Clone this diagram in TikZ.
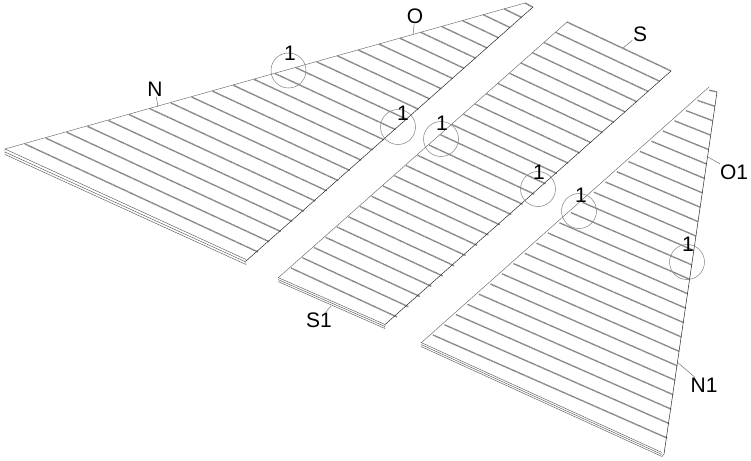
\documentclass[tikz,border=0pt]{standalone}
\usepackage{fontspec}
\setmainfont{Liberation Sans}
\tikzset{
  rib/.style={draw=black!48,line width=1.4pt,dash pattern=on 1.3pt off 0.4pt},
  edgeline/.style={draw=black!85,line width=0.5pt},
  topline/.style={draw=black!55,line width=0.5pt},
  stripline/.style={draw=black!70,line width=0.4pt},
  detailring/.style={circle,draw=black!50,line width=0.5pt,minimum size=35pt,inner sep=0pt},
  lab/.style={inner sep=0.5pt,font=\fontsize{21}{21}\selectfont},
  leader/.style={draw=black!55,line width=0.5pt}
}
\begin{document}
\begin{tikzpicture}[x=1pt,y=-1pt]
	\useasboundingbox (0,0) rectangle (751,460);
	% panel N
	\foreach \k in {0,...,24} {
		\draw[rib] ({25+20.83*\k},{144-5.875*\k}) -- ({258+11.46*\k},{252-10.2*\k});
	}
	\draw[topline] (5,149) -- (525,3);
	\draw[edgeline] (246,261) -- (533,7);
	\draw[stripline] (5,149) -- (246,259.5) (5,152) -- (246,262) (5,154.5) -- (246,264.5) -- (246,259.5) (5,149) -- (5,154.5);
	% panel S
	\foreach \k in {0,...,24} {
		\draw[rib] ({291+11.5*\k},{268-10.25*\k}) -- ({397+11.42*\k},{317-10.25*\k});
	}
	\draw[topline] (278,278) -- (567,22);
	\draw[edgeline] (385,324.5) -- (671,71);
	\draw[stripline] (278,277.5) -- (385,324.5) (278,279.5) -- (385,326.5) (278,281.5) -- (385,328.5) -- (385,324.5);
	% panel N1
	\foreach \k in {0,...,24} {
		\draw[rib] ({433+11.5*\k},{335-10.2*\k}) -- ({667+2.08*\k},{438-14.42*\k});
	}
	\draw[topline] (421,343) -- (709,87);
	\draw[edgeline] (664,454) -- (717,92);
	\draw[stripline] (421,342.5) -- (662,452.5) (421,344.5) -- (662,454.5) (421,346.5) -- (662,456.5) -- (664,454);
	% detail rings
	\node[detailring] (ringa) at (288.5,70.5) {};
	\node[detailring] (ringb) at (398,127) {};
	\node[detailring] (ringc) at (441,139) {};
	\node[detailring] (ringd) at (538,189) {};
	\node[detailring] (ringe) at (579,211) {};
	\node[detailring] (ringf) at (687,262) {};
	\node[lab] (onea) at (290,53) {1};
	\node[lab] (oneb) at (403,113) {1};
	\node[lab] (onec) at (442,123) {1};
	\node[lab] (oned) at (539,172) {1};
	\node[lab] (onee) at (581,195) {1};
	\node[lab] (onef) at (688,244) {1};
	% side labels
	\node[lab] (labN) at (155,89) {N};
	\node[lab] (labO) at (415,16) {O};
	\node[lab] (labS) at (640,34) {S};
	\node[lab] (labSa) at (319,320) {S1};
	\node[lab] (labOa) at (734,172) {O1};
	\node[lab] (labNa) at (704,385) {N1};
	\coordinate (endN) at (158,107);
	\coordinate (endO) at (413,35);
	\coordinate (endS) at (623,48);
	\coordinate (endSa) at (331,306);
	\coordinate (endOa) at (708,157);
	\coordinate (endNa) at (677,362);
	\draw[leader] (labN) -- (endN);
	\draw[leader] (labO) -- (endO);
	\draw[leader] (labS) -- (endS);
	\draw[leader] (labSa) -- (endSa);
	\draw[leader] (labOa) -- (endOa);
	\draw[leader] (labNa) -- (endNa);
\end{tikzpicture}
\end{document}
